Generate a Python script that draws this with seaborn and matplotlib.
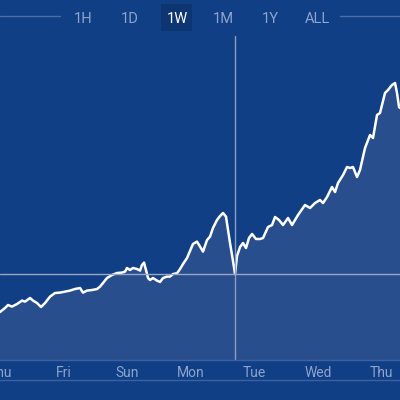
import numpy as np
import pandas as pd
import matplotlib.pyplot as plt
import seaborn as sns
from matplotlib.lines import Line2D
from matplotlib.patches import Rectangle

# time in days since the first Thursday tick, price in arbitrary units
days = [
    -0.008, 0.071, 0.118, 0.181, 0.260, 0.339, 0.386, 0.465, 0.512, 0.575,
    0.638, 0.701, 0.780, 0.858, 0.937, 1.016, 1.094, 1.173, 1.252, 1.299,
    1.362, 1.441, 1.520, 1.567, 1.614, 1.677, 1.756, 1.835, 1.913, 1.961,
    1.992, 2.039, 2.087, 2.150, 2.197, 2.228, 2.260, 2.291, 2.323, 2.354,
    2.402, 2.465, 2.512, 2.559, 2.622, 2.669, 2.717, 2.780, 2.827, 2.874,
    2.937, 2.984, 3.031, 3.094, 3.142, 3.189, 3.252, 3.299, 3.346, 3.409,
    3.457, 3.504, 3.551, 3.583, 3.614, 3.646, 3.693, 3.724, 3.772, 3.819,
    3.866, 3.913, 3.961, 4.024, 4.087, 4.134, 4.213, 4.276, 4.323, 4.386,
    4.449, 4.528, 4.591, 4.685, 4.795, 4.874, 4.953, 5.031, 5.079, 5.142,
    5.220, 5.268, 5.315, 5.394, 5.457, 5.504, 5.551, 5.614, 5.661, 5.740,
    5.819, 5.866, 5.929, 5.976, 6.055, 6.102, 6.165, 6.213, 6.244, 6.276,
    6.291,
]
price = [
    124.0, 126.0, 127.5, 126.7, 128.0, 129.7, 129.2, 131.0, 129.7, 128.5,
    126.5, 128.5, 131.7, 133.5, 133.7, 134.2, 134.7, 135.5, 136.0, 133.7,
    134.7, 135.0, 135.5, 136.7, 138.5, 141.0, 142.5, 143.5, 143.7, 144.2,
    146.0, 145.0, 146.0, 145.5, 144.7, 147.5, 148.7, 145.0, 141.0, 140.0,
    141.0, 139.7, 139.0, 141.0, 141.7, 141.7, 143.0, 143.4, 145.5, 148.0,
    151.0, 154.5, 158.0, 159.2, 156.7, 154.2, 160.0, 161.7, 166.0, 170.0,
    172.0, 173.5, 171.7, 165.0, 158.5, 152.5, 143.0, 152.0, 156.5, 158.5,
    156.0, 161.0, 163.0, 160.5, 160.5, 161.0, 166.5, 167.5, 171.5, 170.0,
    167.5, 171.0, 167.5, 172.5, 177.5, 176.0, 178.5, 180.0, 178.5, 181.5,
    186.5, 184.0, 188.5, 192.5, 196.5, 196.0, 196.5, 191.5, 195.0, 206.0,
    212.5, 211.0, 222.5, 223.5, 233.5, 235.0, 237.5, 238.5, 233.5, 226.5,
    226.0,
]
selected = 66  # point under the crosshair

tick_days = [0, 1, 2, 3, 4, 5, 6]
tick_labels = ['Thu', 'Fri', 'Sun', 'Mon', 'Tue', 'Wed', 'Thu']
ranges = ['1H', '1D', '1W', '1M', '1Y', 'ALL']
active_range = '1W'

df = pd.DataFrame({'day': days, 'price': price})

bg = '#103f86'
fill = '#284e8d'
muted = '#8da4cc'

sns.set_style('dark', {'axes.facecolor': bg, 'figure.facecolor': bg})
plt.rcParams['font.family'] = ['Roboto', 'DejaVu Sans']

fig = plt.figure(figsize=(4, 4), dpi=100)
ax = fig.add_axes([0, 0.1, 1, 0.81])

ax.fill_between(df['day'], df['price'], 100, color=fill, lw=0)
sns.lineplot(data=df, x='day', y='price', ax=ax, color='white', lw=1.8)

ax.axvline(days[selected], color='#8e9fc2', lw=1)
ax.axhline(price[selected], color='#9aa6c2', lw=1)

ax.set_xlim(days[0], days[-1])
ax.set_ylim(100, 262)
ax.set_xticks(tick_days)
ax.set_xticklabels(tick_labels)
ax.set_yticks([])
ax.set_xlabel('')
ax.set_ylabel('')
ax.tick_params(axis='x', length=0, pad=4, labelsize=10, labelcolor=muted)
ax.grid(False)
for side in ['top', 'left', 'right']:
    ax.spines[side].set_visible(False)
ax.spines['bottom'].set_color('#3b62a0')
ax.spines['bottom'].set_linewidth(1)

# line under the day labels
fig.add_artist(Line2D([0, 1], [0.05, 0.05], color='#3b62a0', lw=1))

# range selector at top
fig.add_artist(Line2D([0, 0.15], [0.96, 0.96], color='#4a6ea8', lw=1))
fig.add_artist(Line2D([0.85, 1], [0.96, 0.96], color='#4a6ea8', lw=1))
centers = [83, 130, 177, 223, 270, 317]
for label, cx in zip(ranges, centers):
    if label == active_range:
        fig.add_artist(Rectangle((161 / 400, 1 - 31 / 400), 31 / 400, 27 / 400,
                                 color='#0c3572', lw=0))
        fig.text(cx / 400, 1 - 19 / 400, label, color='white', fontsize=10.5,
                 ha='center', va='center')
    else:
        fig.text(cx / 400, 1 - 19 / 400, label, color=muted, fontsize=10.5,
                 ha='center', va='center')

plt.savefig('out.png', dpi=100, facecolor=bg)
